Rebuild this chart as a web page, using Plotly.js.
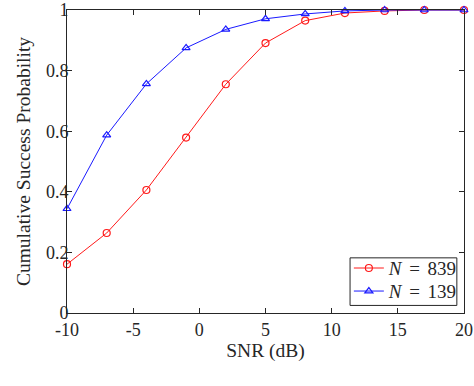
<!DOCTYPE html>
<html>
<head>
<meta charset="utf-8">
<script src="https://cdn.plot.ly/plotly-3.0.1.min.js"></script>
<style>html,body{margin:0;padding:0;background:#fff;}#chart{width:474px;height:386px;}</style>
</head>
<body>
<div id="chart"></div>
<script>
const snr = [-10, -7, -4, -1, 2, 5, 8, 11, 14, 17, 20];
const probN839 = [0.161, 0.264, 0.406, 0.579, 0.755, 0.891, 0.965, 0.990, 0.997, 1.0, 1.0];
const probN139 = [0.344, 0.587, 0.756, 0.875, 0.936, 0.971, 0.987, 0.997, 1.0, 1.0, 1.0];
const seriesNames = ['<i>N</i>&#8201;&#8201;=&#8201;&#8201;839', '<i>N</i>&#8201;&#8201;=&#8201;&#8201;139'];
const xTicks = [-10, -5, 0, 5, 10, 15, 20];
const yTicks = [0, 0.2, 0.4, 0.6, 0.8, 1];
const yTickText = ['0', '0.2', '0.4', '0.6', '0.8', '1'];

const font = 'Liberation Serif, Times New Roman, serif';
const axisCol = '#262626';

const traces = [
  {x: snr, y: probN839, name: seriesNames[0], mode: 'lines+markers', type: 'scatter', cliponaxis: false,
   legend: 'legend',
   line: {color: '#ff1a1a', width: 1},
   marker: {symbol: 'circle-open', size: 7, color: '#ff1a1a', line: {width: 1.2}}},
  {x: snr, y: probN139, name: seriesNames[1], mode: 'lines+markers', type: 'scatter', cliponaxis: false,
   legend: 'legend2',
   line: {color: '#1a1aff', width: 1},
   marker: {symbol: 'triangle-up-open', size: 7, color: '#1a1aff', line: {width: 1.2}}}
];

const axisCommon = {
  showgrid: false, zeroline: false, showline: true, mirror: 'ticks',
  linecolor: axisCol, linewidth: 1, ticks: 'inside', ticklen: 5, tickcolor: axisCol,
  tickfont: {family: font, size: 18, color: axisCol}
};

const legendCommon = {
  xanchor: 'left', yanchor: 'middle', bgcolor: 'rgba(0,0,0,0)', borderwidth: 0,
  font: {family: font, size: 19, color: axisCol}, itemwidth: 30
};

const layout = {
  width: 474, height: 386,
  margin: {l: 66.5, r: 10, t: 10, b: 73.3},
  paper_bgcolor: '#fff', plot_bgcolor: '#fff',
  showlegend: true,
  xaxis: Object.assign({}, axisCommon, {
    range: [-10, 20], tickvals: xTicks, ticktext: xTicks.map(String),
    title: {text: 'SNR (dB)', font: {family: font, size: 19.5, color: axisCol}, standoff: 4}
  }),
  yaxis: Object.assign({}, axisCommon, {
    range: [0, 1], tickvals: yTicks, ticktext: yTickText, ticklabelstandoff: -6,
    title: {text: 'Cumulative Success Probability', font: {family: font, size: 19.5, color: axisCol}, standoff: 10}
  }),
  legend: Object.assign({}, legendCommon, {x: 0.71, y: 0.148}),
  legend2: Object.assign({}, legendCommon, {x: 0.71, y: 0.072}),
  shapes: [{type: 'rect', xref: 'paper', yref: 'paper', x0: 0.713, x1: 0.982, y0: 0.025, y1: 0.182,
            line: {color: axisCol, width: 1}, fillcolor: '#fff', layer: 'below'}]
};

Plotly.newPlot('chart', traces, layout, {displayModeBar: false, staticPlot: true});
</script>
</body>
</html>
